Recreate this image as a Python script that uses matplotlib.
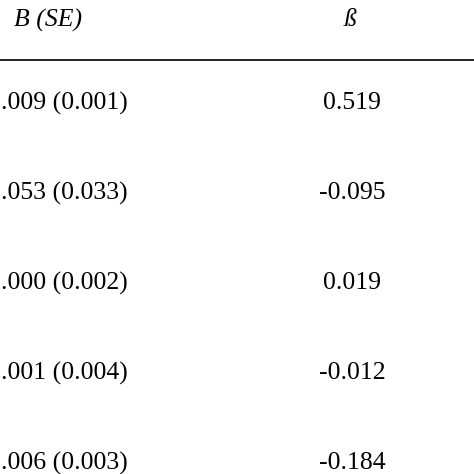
import matplotlib.pyplot as plt

# table values
b_se = ["0.009 (0.001)", "-0.053 (0.033)", "0.000 (0.002)", "0.001 (0.004)", "-0.006 (0.003)"]
beta = ["0.519", "-0.095", "0.019", "-0.012", "-0.184"]
row_y = [103, 193, 283, 373, 463]

plt.rcParams['font.family'] = ['Liberation Serif', 'DejaVu Serif']

fig = plt.figure(figsize=(4.74, 4.74), dpi=100)
ax = fig.add_axes([0, 0, 1, 1])
ax.set_xlim(0, 474)
ax.set_ylim(474, 0)
ax.axis('off')

fs = 18.5
ax.text(14, 20, "B (SE)", style='italic', fontsize=fs, ha='left', va='center')
ax.text(350, 20, "ß", style='italic', fontsize=fs, ha='center', va='center')
ax.plot([0, 474], [60, 60], color='black', lw=1.2)

for y, b, s in zip(row_y, b_se, beta):
    # left column is cut off at the image edge
    num, se = b.split(" ")
    ax.text(128, y, num[-4:] + " " + se, fontsize=fs, ha='right', va='center')
    ax.text(352, y, s, fontsize=fs, ha='center', va='center')

fig.savefig("out.png", dpi=100, facecolor='white')
